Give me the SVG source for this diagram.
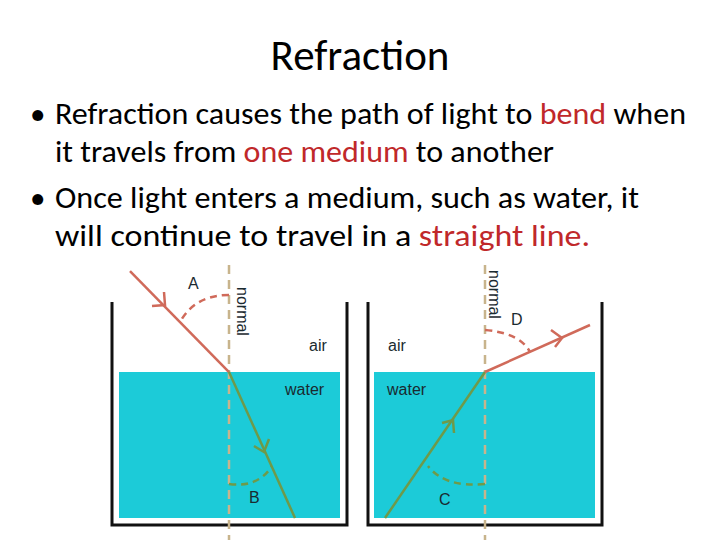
<svg xmlns="http://www.w3.org/2000/svg" width="720" height="540" viewBox="0 0 720 540">
<style>
.t{font-family:"Liberation Sans",Arial,sans-serif;fill:#1a2a30;font-size:16px}
.b{font-family:Carlito,Lato,"Liberation Sans",sans-serif;font-size:31px;fill:#000}
.wall{fill:none;stroke:#111;stroke-width:3}
.norm{stroke:#c8b48c;stroke-width:2.5;stroke-dasharray:9,6;fill:none}
.red{stroke:#d06a5a;stroke-width:2.5;fill:none}
.grn{stroke:#6e9a4a;stroke-width:2.5;fill:none}
.rd{stroke:#d06a5a;stroke-width:2.5;fill:none;stroke-dasharray:7,5}
.gd{stroke:#6e9a4a;stroke-width:2.5;fill:none;stroke-dasharray:7,5}
</style>
<rect width="720" height="540" fill="#fff"/>
<text x="360" y="70" text-anchor="middle" style="font-family:Carlito,Lato,'Liberation Sans',sans-serif;font-size:43px">Refraction</text>
<text class="b" x="30" y="124">•</text>
<text class="b" x="55" y="124" textLength="631" lengthAdjust="spacingAndGlyphs">Refraction causes the path of light to <tspan fill="#c0282a">bend</tspan> when</text>
<text class="b" x="55" y="162" textLength="499" lengthAdjust="spacingAndGlyphs">it travels from <tspan fill="#c0282a">one medium</tspan> to another</text>
<text class="b" x="30" y="208">•</text>
<text class="b" x="55" y="208" textLength="584" lengthAdjust="spacingAndGlyphs">Once light enters a medium, such as water, it</text>
<text class="b" x="55" y="246" textLength="535" lengthAdjust="spacingAndGlyphs">will continue to travel in a <tspan fill="#c0282a">straight line.</tspan></text>
<g id="left">
<rect x="119" y="372" width="221" height="146" fill="#1ccbd8"/>
<path class="wall" d="M112 302V525H347V302"/>
<line class="norm" x1="229" y1="265" x2="229" y2="540"/>
<line class="red" x1="130" y1="271" x2="229" y2="372"/>
<path class="red" d="M152 306L165 305L164 292"/>
<line class="grn" x1="229" y1="372" x2="295" y2="518"/>
<path class="grn" d="M254 446L264 452L269 439"/>
<path class="rd" d="M229 295Q195 295 180 322"/>
<path class="gd" d="M229 484Q258 488 272 466"/>
<text class="t" x="188" y="289">A</text>
<text class="t" x="309" y="351">air</text>
<text class="t" x="285" y="395">water</text>
<text class="t" x="249" y="503">B</text>
<text class="t" transform="translate(237 287) rotate(90)">normal</text>
</g>
<g id="right">
<rect x="374" y="372" width="221" height="146" fill="#1ccbd8"/>
<path class="wall" d="M368 302V525H602V302"/>
<line class="norm" x1="485" y1="265" x2="485" y2="540"/>
<line class="grn" x1="385" y1="518" x2="485" y2="372"/>
<path class="grn" d="M442 423L453 420L454 433"/>
<line class="red" x1="485" y1="372" x2="590" y2="325"/>
<path class="red" d="M551 330L562 338L555 347"/>
<path class="gd" d="M485 484Q445 488 428 466"/>
<path class="rd" d="M485 330Q520 333 530 352"/>
<text class="t" x="388" y="351">air</text>
<text class="t" x="387" y="395">water</text>
<text class="t" x="439" y="505">C</text>
<text class="t" x="511" y="325">D</text>
<text class="t" transform="translate(489 270) rotate(90)">normal</text>
</g>
</svg>
